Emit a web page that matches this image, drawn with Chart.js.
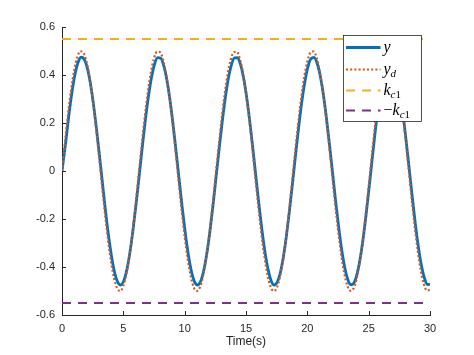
<!DOCTYPE html>
<html><head><meta charset="utf-8">
<script src="https://cdn.jsdelivr.net/npm/chart.js@4/dist/chart.umd.min.js"></script>
<style>html,body{margin:0;padding:0;background:#fff;}#wrap{width:474px;height:355px;}</style>
</head><body><div id="wrap"><canvas id="c" width="474" height="355"></canvas></div>
<script>
// time samples for reference signal y_d
const time = [0,0.25,0.5,0.75,1,1.25,1.5,1.75,2,2.25,2.5,2.75,3,3.25,3.5,3.75,4,4.25,4.5,4.75,5,5.25,5.5,5.75,6,6.25,6.5,6.75,7,7.25,7.5,7.75,8,8.25,8.5,8.75,9,9.25,9.5,9.75,10,10.25,10.5,10.75,11,11.25,11.5,11.75,12,12.25,12.5,12.75,13,13.25,13.5,13.75,14,14.25,14.5,14.75,15,15.25,15.5,15.75,16,16.25,16.5,16.75,17,17.25,17.5,17.75,18,18.25,18.5,18.75,19,19.25,19.5,19.75,20,20.25,20.5,20.75,21,21.25,21.5,21.75,22,22.25,22.5,22.75,23,23.25,23.5,23.75,24,24.25,24.5,24.75,25,25.25,25.5,25.75,26,26.25,26.5,26.75,27,27.25,27.5,27.75,28,28.25,28.5,28.75,29,29.25,29.5,29.75,30];
const yd = [0,0.124,0.240,0.341,0.421,0.475,0.499,0.492,0.455,0.389,0.299,0.191,0.071,-0.054,-0.175,-0.286,-0.378,-0.448,-0.489,-0.500,-0.479,-0.429,-0.353,-0.254,-0.140,-0.017,0.108,0.225,0.329,0.412,0.469,0.497,0.495,0.461,0.399,0.312,0.206,0.087,-0.038,-0.160,-0.272,-0.367,-0.440,-0.486,-0.500,-0.484,-0.438,-0.364,-0.268,-0.156,-0.033,0.091,0.210,0.316,0.402,0.463,0.495,0.497,0.467,0.409,0.325,0.221,0.103,-0.021,-0.144,-0.258,-0.356,-0.432,-0.481,-0.500,-0.488,-0.446,-0.376,-0.282,-0.171,-0.050,0.075,0.195,0.303,0.392,0.456,0.493,0.498,0.473,0.418,0.338,0.236,0.119,-0.004,-0.128,-0.244,-0.344,-0.423,-0.476,-0.499,-0.491,-0.453,-0.386,-0.296,-0.187,-0.066,0.059,0.180,0.289,0.381,0.449,0.490,0.499,0.478,0.427,0.350,0.250,0.135,0.012,-0.112,-0.229,-0.332,-0.414,-0.471,-0.498,-0.494];
// time samples for output y (slight lag)
const timeY = [0,0.3,0.55,0.8,1.05,1.3,1.55,1.8,2.05,2.3,2.55,2.8,3.05,3.3,3.55,3.8,4.05,4.3,4.55,4.8,5.05,5.3,5.55,5.8,6.05,6.3,6.55,6.8,7.05,7.3,7.55,7.8,8.05,8.3,8.55,8.8,9.05,9.3,9.55,9.8,10.05,10.3,10.55,10.8,11.05,11.3,11.55,11.8,12.05,12.3,12.55,12.8,13.05,13.3,13.55,13.8,14.05,14.3,14.55,14.8,15.05,15.3,15.55,15.8,16.05,16.3,16.55,16.8,17.05,17.3,17.55,17.8,18.05,18.3,18.55,18.8,19.05,19.3,19.55,19.8,20.05,20.3,20.55,20.8,21.05,21.3,21.55,21.8,22.05,22.3,22.55,22.8,23.05,23.3,23.55,23.8,24.05,24.3,24.55,24.8,25.05,25.3,25.55,25.8,26.05,26.3,26.55,26.8,27.05,27.3,27.55,27.8,28.05,28.3,28.55,28.8,29.05,29.3,29.55,29.8,30];
const yOut = [0,0.118,0.228,0.324,0.400,0.451,0.474,0.467,0.432,0.370,0.284,0.181,0.067,-0.051,-0.167,-0.272,-0.359,-0.425,-0.464,-0.475,-0.455,-0.408,-0.335,-0.241,-0.133,-0.016,0.102,0.214,0.312,0.391,0.446,0.472,0.470,0.438,0.379,0.297,0.196,0.083,-0.036,-0.152,-0.258,-0.349,-0.418,-0.461,-0.475,-0.460,-0.416,-0.346,-0.255,-0.148,-0.031,0.087,0.200,0.300,0.382,0.440,0.471,0.472,0.444,0.389,0.309,0.210,0.098,-0.020,-0.137,-0.245,-0.338,-0.410,-0.457,-0.475,-0.463,-0.423,-0.357,-0.268,-0.163,-0.047,0.071,0.185,0.288,0.372,0.434,0.468,0.473,0.449,0.397,0.321,0.224,0.113,-0.004,-0.122,-0.231,-0.327,-0.402,-0.452,-0.474,-0.467,-0.430,-0.367,-0.281,-0.177,-0.063,0.056,0.171,0.275,0.362,0.427,0.465,0.474,0.454,0.406,0.332,0.238,0.129,0.012,-0.106,-0.218,-0.315,-0.393,-0.447,-0.473,-0.472];
const kc1 = 0.55;
const kTime = [0, 30];
const xTicks = [0,5,10,15,20,25,30];
const yTicks = [-0.6,-0.4,-0.2,0,0.2,0.4,0.6];
const legendMain = ['y','y','k','\u2212k'];
const legendSub = ['','d','c1','c1'];
const xTitle = 'Time(s)';

const AX = '#262626';
const pts = (xs, ys) => xs.map((x,i)=>({x:x,y:ys[i]}));

const dsets = [
  {label:'y', data:pts(timeY,yOut), borderColor:'#0072BD', borderWidth:2.8, order:3},
  {label:'yd', data:pts(time,yd), borderColor:'#D95319', borderWidth:2.2, borderDash:[2,2.2], order:2},
  {label:'kc1', data:pts(kTime,[kc1,kc1]), borderColor:'#EDB120', borderWidth:2, borderDash:[9,7], order:1},
  {label:'-kc1', data:pts(kTime,[-kc1,-kc1]), borderColor:'#7E2F8E', borderWidth:2, borderDash:[9,7], order:0}
];
dsets.forEach(d=>{d.pointRadius=0;d.fill=false;d.cubicInterpolationMode='monotone';d.borderCapStyle='butt';});

const inwardTicks = {
  id:'inwardTicks',
  afterDraw(chart){
    const ctx=chart.ctx, ca=chart.chartArea, xs=chart.scales.x, ys=chart.scales.y;
    ctx.save(); ctx.strokeStyle=AX; ctx.lineWidth=1;
    xTicks.forEach(v=>{const p=Math.round(xs.getPixelForValue(v))+0.5; ctx.beginPath(); ctx.moveTo(p,ca.bottom); ctx.lineTo(p,ca.bottom-4); ctx.stroke();});
    yTicks.forEach(v=>{const p=Math.round(ys.getPixelForValue(v))+0.5; ctx.beginPath(); ctx.moveTo(ca.left,p); ctx.lineTo(ca.left+4,p); ctx.stroke();});
    ctx.restore();
  }
};

const mathLegend = {
  id:'mathLegend',
  afterDraw(chart){
    const ctx=chart.ctx, ca=chart.chartArea;
    const bx=ca.right-86.5, by=ca.top+8.5, bw=78, bh=86;
    ctx.save();
    ctx.fillStyle='#fff'; ctx.fillRect(bx,by,bw,bh);
    ctx.strokeStyle=AX; ctx.lineWidth=0.8; ctx.strokeRect(bx,by,bw,bh);
    const rows=[by+11, by+33, by+54, by+74.5];
    chart.data.datasets.forEach((d,i)=>{
      const ry=Math.round(rows[i])+0.5;
      ctx.strokeStyle=d.borderColor; ctx.lineWidth=d.borderWidth; ctx.lineCap='butt';
      ctx.setLineDash(i===1?[2,2.2]:(d.borderDash||[]));
      ctx.beginPath(); ctx.moveTo(bx+2.5,ry); ctx.lineTo(bx+37,ry); ctx.stroke();
      ctx.setLineDash([]);
      ctx.fillStyle='#000'; ctx.textBaseline='alphabetic'; ctx.textAlign='left';
      let tx=bx+40; const base=ry+4;
      ctx.font='italic 16px "Liberation Serif"';
      const main=legendMain[i];
      if(main.startsWith('\u2212')){ctx.font='16px "Liberation Serif"'; ctx.fillText('\u2212',tx,base); tx+=ctx.measureText('\u2212').width; ctx.font='italic 16px "Liberation Serif"'; ctx.fillText(main.slice(1),tx,base); tx+=ctx.measureText(main.slice(1)).width;}
      else {ctx.fillText(main,tx,base); tx+=ctx.measureText(main).width;}
      for(const ch of legendSub[i]){
        ctx.font=(/[a-z]/.test(ch)?'italic ':'')+'11px "Liberation Serif"';
        ctx.fillText(ch,tx,base+3); tx+=ctx.measureText(ch).width;
      }
    });
    ctx.restore();
  }
};

new Chart(document.getElementById('c'), {
  type:'line',
  data:{datasets:dsets},
  options:{
    responsive:false, animation:false, events:[],
    layout:{padding:{left:0,top:27,right:44,bottom:0}},
    plugins:{legend:{display:false},tooltip:{enabled:false}},
    scales:{
      x:{type:'linear',min:0,max:30,
        afterBuildTicks:s=>{s.ticks=xTicks.map(v=>({value:v}));},
        afterFit:s=>{s.height=40;},
        grid:{display:false,drawTicks:false},
        border:{display:true,color:AX,width:1},
        ticks:{color:AX,font:{family:'"Liberation Sans", Arial',size:11},padding:7,maxRotation:0,callback:v=>String(v)},
        title:{display:true,text:xTitle,color:AX,font:{family:'"Liberation Sans", Arial',size:12},padding:{top:0,bottom:6}}
      },
      y:{type:'linear',min:-0.6,max:0.6,
        afterBuildTicks:s=>{s.ticks=yTicks.map(v=>({value:v}));},
        afterFit:s=>{s.width=62;},
        grid:{display:false,drawTicks:false},
        border:{display:true,color:AX,width:1},
        ticks:{color:AX,font:{family:'"Liberation Sans", Arial',size:11},padding:7,callback:v=>{const r=Math.round(v*10)/10; return r===0?'0':String(r);}}
      }
    }
  },
  plugins:[inwardTicks, mathLegend]
});
</script></body></html>
